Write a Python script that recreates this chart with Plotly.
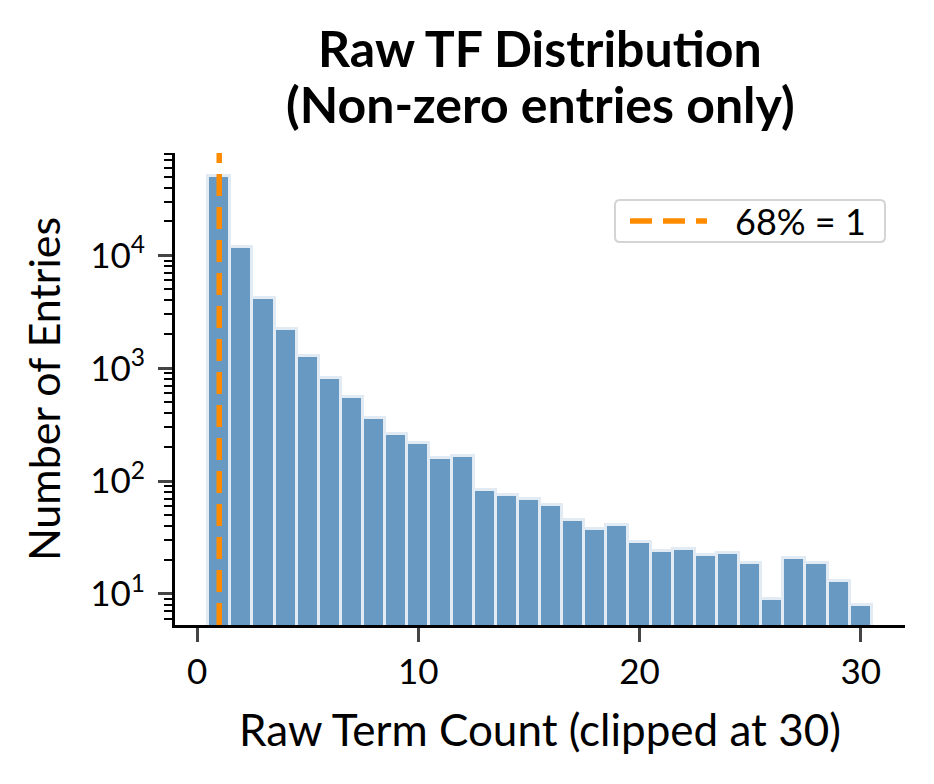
import plotly.graph_objects as go

# Data
term_counts = list(range(1, 31))
entries = [50100, 11770, 4220, 2220, 1297, 815, 553, 361, 260, 218,
           159, 168, 84, 76, 70, 61, 45, 38, 41, 29,
           24, 25, 22, 23, 19, 9, 21, 19, 13, 8]
threshold = 1
threshold_label = "68% = 1"
title_lines = ["Raw TF Distribution", "(Non-zero entries only)"]
major_y = [10, 100, 1000, 10000]
major_y_text = ["10<sup>1</sup>", "10<sup>2</sup>", "10<sup>3</sup>", "10<sup>4</sup>"]
minor_y = [m * d for d in (1, 10, 100, 1000, 10000) for m in range(2, 10) if 5 < m * d < 90000]
x_ticks = [0, 10, 20, 30]

FONT = "Lato"
ORANGE = "#FF8C00"
DASH = "22px,11px"

# plot area in pixels
L, R, T, B = 175, 905, 153, 625
W, H = R - L, B - T


def px(x):
    return (x - L) / W


def py(y):
    return (B - y) / H


fig = go.Figure()
fig.add_trace(go.Bar(
    x=term_counts, y=entries, width=1,
    marker=dict(color="rgba(70,130,180,0.82)", line=dict(color="#e2eaf3", width=3)),
    showlegend=False,
))
fig.add_vline(x=threshold, line=dict(color=ORANGE, width=5.5, dash=DASH), layer="above")

# legend box (rounded) drawn in paper coordinates
bx0, bx1, by0, by1, r = 615, 885, 200, 242, 5
rx, ry = r / W, r / H
X0, X1, Y0, Y1 = px(bx0), px(bx1), py(by0), py(by1)
path = (f"M {X0+rx},{Y0} L {X1-rx},{Y0} Q {X1},{Y0} {X1},{Y0-ry} "
        f"L {X1},{Y1+ry} Q {X1},{Y1} {X1-rx},{Y1} L {X0+rx},{Y1} "
        f"Q {X0},{Y1} {X0},{Y1+ry} L {X0},{Y0-ry} Q {X0},{Y0} {X0+rx},{Y0} Z")
fig.add_shape(type="path", path=path, xref="paper", yref="paper",
              fillcolor="rgba(255,255,255,0.85)", line=dict(color="#d4d4d4", width=2), layer="above")
fig.add_shape(type="line", xref="paper", yref="paper", x0=px(630), x1=px(707), y0=py(221), y1=py(221),
              line=dict(color=ORANGE, width=5.5, dash=DASH), layer="above")
fig.add_annotation(text=threshold_label, xref="paper", yref="paper", x=px(733), y=py(221),
                   xanchor="left", yanchor="middle", showarrow=False, font=dict(size=36, family=FONT))

# title lines as annotations (controlled line spacing)
for line, yc in zip(title_lines, (48, 104)):
    fig.add_annotation(text=f"<b>{line}</b>", xref="paper", yref="paper", x=0.5, y=py(yc),
                       xanchor="center", yanchor="middle", showarrow=False,
                       font=dict(size=50, family=FONT))

fig.update_layout(
    width=934, height=784,
    margin=dict(l=L, r=934 - R, t=T, b=784 - B),
    paper_bgcolor="white", plot_bgcolor="white",
    font=dict(family=FONT, color="black"),
    bargap=0,
    showlegend=False,
    xaxis=dict(range=[-1, 32], tickvals=x_ticks, ticks="outside", ticklen=14, tickwidth=3,
               ticklabelstandoff=0,
               showline=True, linecolor="black", linewidth=3, showgrid=False, zeroline=False,
               tickfont=dict(size=35), title=dict(text="Raw Term Count (clipped at 30)",
                                                  font=dict(size=44), standoff=26)),
    yaxis=dict(type="log", range=[0.725, 4.908], tickmode="array", tickvals=major_y,
               ticktext=major_y_text, ticks="outside", ticklen=14, tickwidth=3,
               ticklabelstandoff=6,
               showline=True, linecolor="black", linewidth=3, showgrid=False, zeroline=False,
               tickfont=dict(size=35), title=dict(text="Number of Entries", font=dict(size=43), standoff=17),
               minor=dict(tickmode="array", tickvals=minor_y, ticks="outside", ticklen=8,
                          tickwidth=2.2, tickcolor="black", showgrid=False)),
)

fig.write_html("out.html")
